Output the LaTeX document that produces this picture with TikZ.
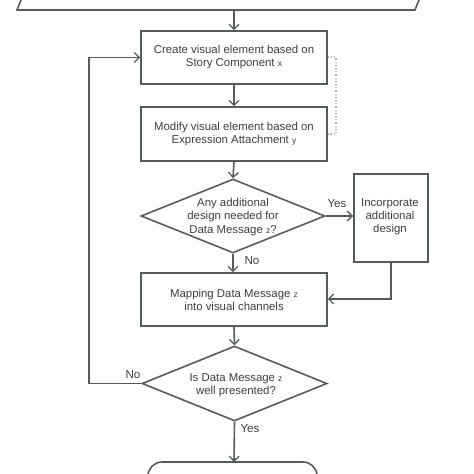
\documentclass[tikz,border=0pt]{standalone}
\usepackage{fontspec}
\setmainfont{Liberation Sans}
\usetikzlibrary{arrows.meta,shapes.geometric}
\definecolor{ln}{RGB}{85,92,92}
\definecolor{txt}{RGB}{60,64,64}
\definecolor{dotc}{RGB}{180,180,180}
\newcommand{\smv}[1]{{\fontsize{8.5}{8.5}\selectfont #1}}
\tikzset{
  box/.style={draw=ln,line width=1.6pt,fill=white,text=txt,align=center,inner sep=0pt,
    font=\fontsize{11.4}{13}\selectfont},
  lbl/.style={text=txt,font=\fontsize{11.6}{13}\selectfont,inner sep=0pt},
  flow/.style={draw=ln,line width=1.6pt,-{Straight Barb[length=5pt,width=10pt,line width=1.3pt]}},
  plain/.style={draw=ln,line width=1.6pt}
}
\begin{document}
\begin{tikzpicture}[x=1pt,y=-1pt]
\useasboundingbox (0,0) rectangle (474,474);
\clip (0,0) rectangle (474,474);
% top parallelogram
\draw[plain] (25,-10) -- (17,10) -- (415,10) -- (423,-10);
\coordinate (topc) at (234,10);
% boxes
\node[box,minimum width=186pt,minimum height=53pt] (b1) at (234,57.5) {Create visual element based on\\Story Component \smv{x}};
\node[box,minimum width=186pt,minimum height=54pt] (b2) at (234,134) {Modify visual element based on\\Expression Attachment \smv{y}};
\node[box,diamond,minimum width=184pt,minimum height=74pt,inner sep=0pt] (d1) at (233,216) {};
\node[lbl,align=center,font=\fontsize{11.4}{13.5}\selectfont] at (233,217) {Any additional\\design needed for\\Data Message \smv{z}?};
\node[box,minimum width=74pt,minimum height=88pt,anchor=north west] (b3) at (353,173) {};
\node[lbl,align=center,font=\fontsize{11.4}{13}\selectfont] at (390,217) {Incorporate\\additional\\design};
\node[box,minimum width=186pt,minimum height=53pt] (b4) at (234,299.5) {Mapping Data Message \smv{z}\\into visual channels};
\node[box,diamond,minimum width=185pt,minimum height=75pt,inner sep=0pt] (d2) at (234.5,383.5) {};
\node[lbl,align=center,font=\fontsize{11.4}{13}\selectfont] at (236,385) {Is Data Message \smv{z}\\well presented?};
\draw[plain,rounded corners=14pt] (148,500) -- (148,462) -- (317,462) -- (317,500);
\coordinate (fin) at (234,462);
% connectors
\draw[flow] (topc) -- (b1.north);
\draw[flow] (b1.south) -- (b2.north);
\draw[flow] (b2.south) -- (d1.north);
\draw[flow] (d1.east) -- (b3.west |- d1.east);
\draw[flow] (b3.south) |- (b4.east |- 0,299);
\draw[flow] (d1.south) -- (b4.north -| d1.south);
\draw[flow] (b4.south) -- (d2.north);
\draw[flow] (d2.west) -- (89,383.5) |- (b1.west);
\draw[flow] (d2.south) -- (fin);
% dotted bracket
\draw[dotc,line width=1.2pt,dotted] (b1.east |- 0,57) -- (336,57) -- (336,134) -- (b2.east |- 0,134);
% labels
\node[lbl] at (337,204) {Yes};
\node[lbl] at (252,261) {No};
\node[lbl] at (133,375) {No};
\node[lbl] at (250,429) {Yes};
\end{tikzpicture}
\end{document}
